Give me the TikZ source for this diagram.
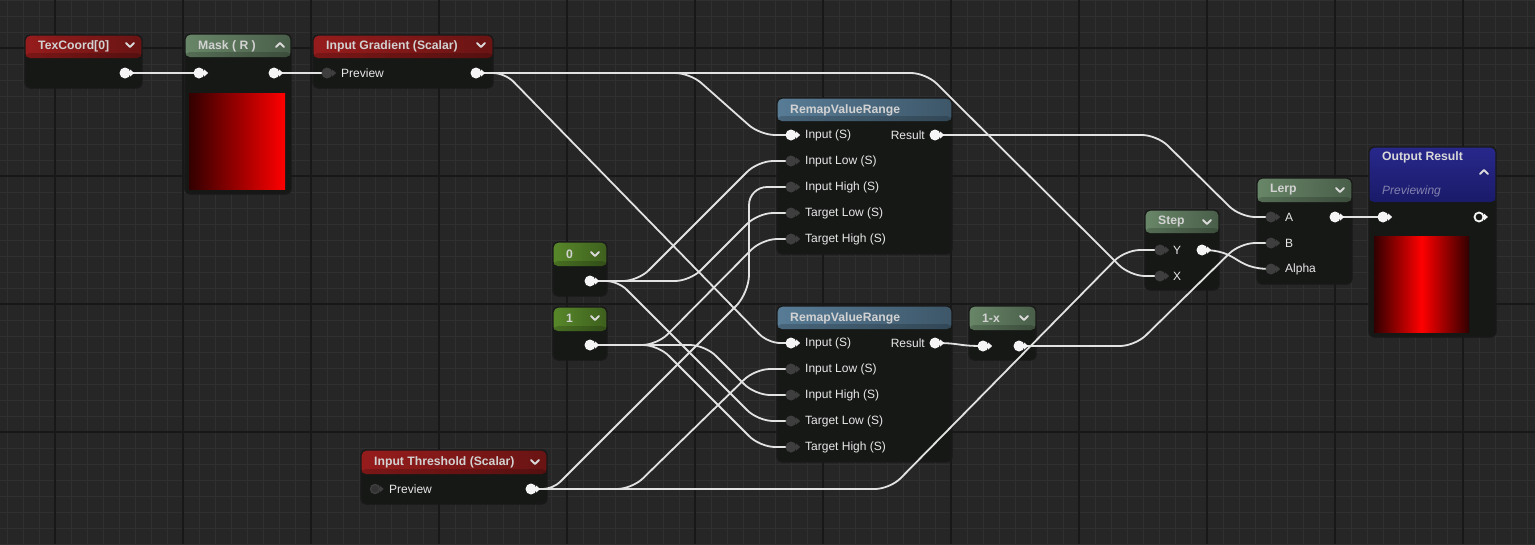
\documentclass[tikz,border=0pt]{standalone}
\usepackage{fontspec}
\setmainfont{Liberation Sans}
\usetikzlibrary{calc}
\pgfdeclarelayer{bg}
\pgfdeclarelayer{bodies}
\pgfdeclarelayer{wires}
\pgfsetlayers{bg,bodies,wires,main}
\definecolor{bgc}{RGB}{38,38,38}
\definecolor{gridminor}{RGB}{48,48,48}
\definecolor{gridmajor}{RGB}{24,24,24}
\definecolor{bodyc}{RGB}{22,24,22}
\definecolor{hred}{RGB}{150,28,28}
\definecolor{hgreen}{RGB}{104,134,104}
\definecolor{hconst}{RGB}{88,136,42}
\definecolor{hblue}{RGB}{88,124,150}
\definecolor{houtT}{RGB}{40,40,140}
\definecolor{houtM}{RGB}{16,16,80}
\definecolor{houtB}{RGB}{32,32,160}
\definecolor{pvdark}{RGB}{50,0,0}
\definecolor{pvred}{RGB}{255,0,0}
\definecolor{wirec}{RGB}{226,226,226}
\definecolor{pinwhite}{RGB}{245,245,245}
\definecolor{pinoffc}{RGB}{62,62,62}
\definecolor{titlec}{RGB}{210,210,210}
\definecolor{labelc}{RGB}{232,232,232}
\definecolor{previewc}{RGB}{130,130,175}
\tikzset{
  uebox/.style={draw=black!90, line width=1.4pt, rounded corners=5pt, fill=bodyc, inner sep=0pt, outer sep=0pt},
  hdr/.style 2 args={path picture={\shade[left color=#1, right color=#1!70!black] (path picture bounding box.north west) rectangle ([yshift=-#2]path picture bounding box.north east);
    \fill[black, opacity=0.18] ([yshift=-#2+5pt]path picture bounding box.north west) rectangle ([yshift=-#2]path picture bounding box.north east);}},
  ttl/.style={font=\fontsize{12.2}{14}\selectfont\bfseries, text=titlec, inner sep=0pt, anchor=west},
  lbl/.style={font=\fontsize{12}{14}\selectfont, text=labelc, inner sep=0pt, anchor=west},
  chev/.style={draw=white!85!black, line width=1.8pt, line cap=round, line join=round},
  wire/.style={draw=wirec, line width=1.8pt, rounded corners=15pt},
  pinon/.style={circle, fill=pinwhite, minimum size=11pt, inner sep=0pt},
  trion/.style={fill=pinwhite},
  pinoff/.style={circle, fill=pinoffc, minimum size=11pt, inner sep=0pt},
  trioff/.style={fill=pinoffc},
  pinring/.style={circle, draw=pinwhite, fill=bodyc, line width=1.8pt, minimum size=9pt, inner sep=0pt},
  triring/.style={fill=pinwhite},
  pinhole/.style={circle, draw=pinoffc, fill=black!80, line width=1.4pt, minimum size=9pt, inner sep=0pt},
  trihole/.style={fill=pinoffc},
}
\newcommand\uepin[4]{%
  \node[pin#4] (#1) at (#2,#3) {};
  \fill[tri#4] ([xshift=-0.5pt]#1.east) ++(0,3.5) -- ++(4,-3.5) -- ++(-4,-3.5) -- cycle;}
\newcommand\chevd[2]{\draw[chev] ({#1-4},{#2-2}) -- (#1,{#2+2}) -- ({#1+4},{#2-2});}
\newcommand\chevu[2]{\draw[chev] ({#1-4},{#2+2}) -- (#1,{#2-2}) -- ({#1+4},{#2+2});}
\begin{document}
\begin{tikzpicture}[x=1pt,y=-1pt]
\useasboundingbox (0,0) rectangle (1535,544);
\begin{pgfonlayer}{bg}
\fill[bgc] (0,0) rectangle (1535,544);
\begin{scope}
\clip (0,0) rectangle (1535,544);
\foreach \x in {7,23,...,1535} \draw[gridminor, line width=1pt] (\x,0) -- (\x,544);
\foreach \y in {0,16,...,544} \draw[gridminor, line width=1pt] (0,\y) -- (1535,\y);
\foreach \x in {55,183,...,1535} \draw[gridmajor, line width=1.2pt] (\x,0) -- (\x,544);
\foreach \y in {48,176,...,544} \draw[gridmajor, line width=1.2pt] (0,\y) -- (1535,\y);
\end{scope}
\end{pgfonlayer}

\begin{pgfonlayer}{bodies}
\node[uebox, hdr={hred}{23pt}, minimum width=117pt, minimum height=53pt] (tex) at (83.5,61.5) {};
\node[uebox, hdr={hgreen}{23pt}, minimum width=106pt, minimum height=160pt] (mask) at (238,114) {};
\node[uebox, hdr={hred}{23pt}, minimum width=180pt, minimum height=53pt] (grad) at (403,61.5) {};
\node[uebox, hdr={hblue}{23pt}, minimum width=175pt, minimum height=156pt] (rA) at (864.5,176) {};
\node[uebox, hdr={hblue}{23pt}, minimum width=175pt, minimum height=156pt] (rB) at (864.5,384) {};
\node[uebox, hdr={hconst}{24pt}, minimum width=54pt, minimum height=54pt] (czero) at (580,269) {};
\node[uebox, hdr={hconst}{24pt}, minimum width=54pt, minimum height=53pt] (cone) at (580,333.5) {};
\node[uebox, hdr={hred}{24pt}, minimum width=186pt, minimum height=54pt] (thr) at (454,477) {};
\node[uebox, hdr={hgreen}{24pt}, minimum width=67pt, minimum height=54pt] (onex) at (1002.5,333) {};
\node[uebox, hdr={hgreen}{23pt}, minimum width=74pt, minimum height=80pt] (step) at (1182,250) {};
\node[uebox, hdr={hgreen}{24pt}, minimum width=95pt, minimum height=106pt] (lerp) at (1304.5,231) {};
\node[uebox, minimum width=127pt, minimum height=190pt,
  path picture={\shade[top color=houtT, bottom color=houtB, middle color=houtM] (path picture bounding box.north west) rectangle ([yshift=-55pt]path picture bounding box.north east);}] (outn) at (1432.5,242) {};
\shade[left color=pvdark, right color=pvred] (189,93) rectangle (285,189);
\shade[left color=pvdark, right color=pvdark, middle color=pvred] (1374,236) rectangle (1469,332);
\end{pgfonlayer}

% titles
\node[ttl] (tT) at (38,46) {TexCoord[0]};
\node[ttl] (tM) at (198,46) {Mask ( R )};
\node[ttl] (tG) at (326,46) {Input Gradient (Scalar)};
\node[ttl] (tRA) at (790,110) {RemapValueRange};
\node[ttl] (tRB) at (790,318) {RemapValueRange};
\node[ttl] (tC0) at (566,254) {0};
\node[ttl] (tC1) at (566,318) {1};
\node[ttl] (tTh) at (374,462) {Input Threshold (Scalar)};
\node[ttl] (tOx) at (982,318) {1-x};
\node[ttl] (tS) at (1158,222) {Step};
\node[ttl] (tL) at (1270,190) {Lerp};
\node[ttl, text=white!85!black] (tO) at (1382,157) {Output Result};
\node[ttl, text=previewc, font=\fontsize{12}{14}\selectfont\itshape] (tP) at (1382,191) {Previewing};
\chevd{130}{45}\chevu{280}{45}\chevd{481}{45}\chevd{595}{254}\chevd{595}{318}
\chevd{535}{462}\chevd{1024}{318}\chevd{1207}{222}\chevd{1340}{190}\chevu{1484}{172}

% pin labels
\node[lbl] (lG) at (341,73) {Preview};
\node[lbl] (lTh) at (389,489) {Preview};
\node[lbl] (lA1) at (805,135) {Input (S)};
\node[lbl] (lA2) at (805,161) {Input Low (S)};
\node[lbl] (lA3) at (805,187) {Input High (S)};
\node[lbl] (lA4) at (805,213) {Target Low (S)};
\node[lbl] (lA5) at (805,239) {Target High (S)};
\node[lbl, anchor=east] (lAr) at (925,135) {Result};
\node[lbl] (lB1) at (805,343) {Input (S)};
\node[lbl] (lB2) at (805,369) {Input Low (S)};
\node[lbl] (lB3) at (805,395) {Input High (S)};
\node[lbl] (lB4) at (805,421) {Target Low (S)};
\node[lbl] (lB5) at (805,447) {Target High (S)};
\node[lbl, anchor=east] (lBr) at (925,343) {Result};
\node[lbl] (lSy) at (1173,250) {Y};
\node[lbl] (lSx) at (1173,276) {X};
\node[lbl] (lLa) at (1285,217) {A};
\node[lbl] (lLb) at (1285,243) {B};
\node[lbl] (lLc) at (1285,269) {Alpha};

% pins
\uepin{texo}{125}{73}{on}
\uepin{maski}{199}{73}{on}
\uepin{masko}{274}{73}{on}
\uepin{gradi}{327}{73}{off}
\uepin{grado}{476}{73}{on}
\uepin{rAin}{791}{135}{on}
\uepin{rAil}{791}{161}{off}
\uepin{rAih}{791}{187}{off}
\uepin{rAtl}{791}{213}{off}
\uepin{rAth}{791}{239}{off}
\uepin{rAo}{935}{135}{on}
\uepin{rBin}{791}{343}{on}
\uepin{rBil}{791}{369}{off}
\uepin{rBih}{791}{395}{off}
\uepin{rBtl}{791}{421}{off}
\uepin{rBth}{791}{447}{off}
\uepin{rBo}{935}{343}{on}
\uepin{czo}{590}{281}{on}
\uepin{coo}{590}{345}{on}
\uepin{thri}{375}{489}{hole}
\uepin{thro}{531}{489}{on}
\uepin{oxi}{983}{346}{on}
\uepin{oxo}{1019}{346}{on}
\uepin{sty}{1160}{250}{off}
\uepin{stx}{1160}{276}{off}
\uepin{sto}{1202}{250}{on}
\uepin{lea}{1271}{217}{off}
\uepin{leb}{1271}{243}{off}
\uepin{lec}{1271}{269}{off}
\uepin{leo}{1335}{217}{on}
\uepin{oui}{1383}{217}{on}
\uepin{ouo}{1479}{217}{ring}

\begin{pgfonlayer}{wires}
\draw[wire] (texo.center) -- (maski.center);
\draw[wire] (masko.center) -- (gradi.center);
\draw[wire] (grado.center) -- (690,73) -- (760,135) -- (rAin.center);
\draw[wire] (grado.center) [rounded corners=12pt] -- (505,73) -- (768,343) -- (rBin.center);
\draw[wire] (grado.center) -- (926,73) -- (1130,276) -- (stx.center);
\draw[wire] (rAo.center) -- (1157,135) -- (1240,217) -- (lea.center);
\draw[wire] (rBo.center) .. controls (962,343) and (956,346) .. (oxi.center);
\draw[wire] (oxo.center) -- (1135,346) -- (1240,243) -- (leb.center);
\draw[wire] (sto.center) .. controls (1240,250) and (1233,269) .. (lec.center);
\draw[wire] (leo.center) -- (oui.center);
\draw[wire] (thro.center) -- (890,489) -- (1125,250) -- (sty.center);
\draw[wire] (thro.center) [rounded corners=10pt] -- (553,489) [rounded corners=18pt] -- (749,293) -- (749,187) [rounded corners=15pt] -- (rAih.center);
\draw[wire] (thro.center) -- (632,489) -- (755,369) -- (rBil.center);
\draw[wire] (czo.center) -- (638,281) -- (758,161) -- (rAil.center);
\draw[wire] (czo.center) -- (690,281) -- (758,213) -- (rAtl.center);
\draw[wire] (czo.center) [rounded corners=12pt] -- (618,281) [rounded corners=15pt] -- (758,421) -- (rBtl.center);
\draw[wire] (coo.center) -- (657,345) -- (762,239) -- (rAth.center);
\draw[wire] (coo.center) -- (705,345) -- (755,395) -- (rBih.center);
\draw[wire] (coo.center) -- (658,345) -- (760,447) -- (rBth.center);
\end{pgfonlayer}
\end{tikzpicture}
\end{document}
